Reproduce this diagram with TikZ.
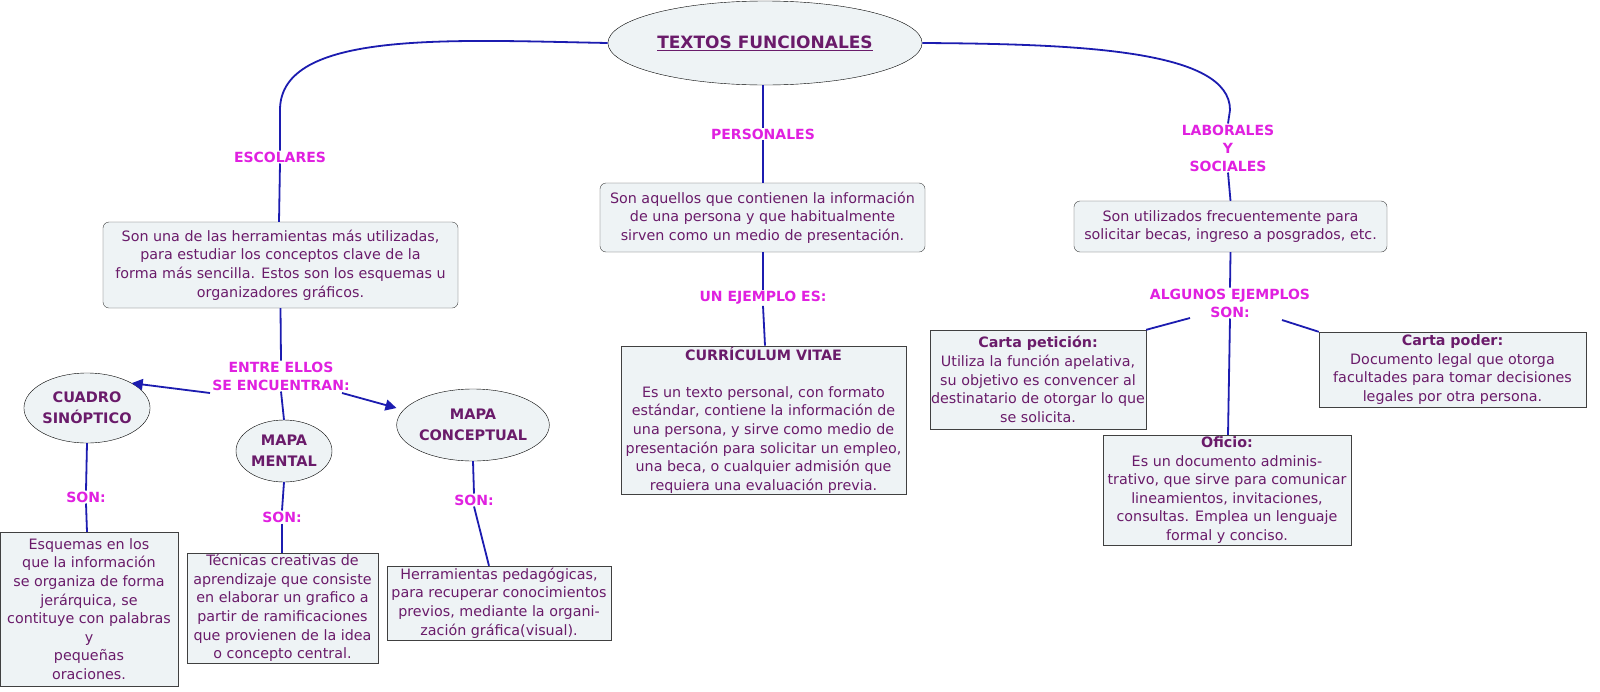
\documentclass[tikz,border=0pt]{standalone}
\usepackage{fontspec}
\setmainfont{DejaVu Sans}
\usetikzlibrary{arrows.meta,shapes.geometric}
\definecolor{txt}{HTML}{6A1B6A}
\definecolor{lab}{HTML}{E020E0}
\definecolor{ln}{HTML}{1C1CB0}
\definecolor{bfill}{HTML}{EEF3F5}
\begin{document}
\begin{tikzpicture}[x=1pt,y=-1pt,
  box/.style={draw=black!75,fill=bfill,rounded corners=6pt,text=txt,align=center,inner sep=1pt,font=\fontsize{14.3}{18.6}\selectfont},
  sbox/.style={draw=black!75,fill=bfill,text=txt,align=center,inner sep=1pt,font=\fontsize{14.3}{18.6}\selectfont},
  ell/.style={draw=black,fill=bfill,ellipse,text=txt,align=center,font=\bfseries\fontsize{14.5}{21}\selectfont},
  lbl/.style={text=lab,align=center,font=\bfseries\fontsize{14}{18}\selectfont,inner sep=1pt},
  conn/.style={draw=ln,line width=1.8pt},
  arr/.style={conn,-{Triangle[length=11pt,width=11pt]}}]
\useasboundingbox (0,0) rectangle (1600,691);
\fill[white] (0,0) rectangle (1600,691);
% title
\node[draw=black,fill=bfill,ellipse,minimum width=268pt,minimum height=84pt,text=txt,font=\bfseries\fontsize{17}{20}\selectfont] (t) at (765,43) {\underline{TEXTOS FUNCIONALES}};
% labels
\node[lbl] (esc) at (280,157) {ESCOLARES};
\node[lbl] (per) at (763,134) {PERSONALES};
\node[lbl] (lab) at (1228,148) {LABORALES\\Y\\SOCIALES};
\node[lbl] (entre) at (281,376) {ENTRE ELLOS\\SE ENCUENTRAN:};
\node[lbl] (unej) at (763,298) {UN EJEMPLO ES:};
\node[lbl] (alg) at (1230,303) {ALGUNOS EJEMPLOS\\SON:};
\node[lbl] (son1) at (86,497) {SON:};
\node[lbl] (son2) at (282,517) {SON:};
\node[lbl] (son3) at (474,500) {SON:};
% boxes
\node[box,minimum width=355pt,minimum height=86pt] (bEsc) at (280.5,265) {Son una de las herramientas más utilizadas,\\para estudiar los conceptos clave de la\\forma más sencilla. Estos son los esquemas u\\organizadores gráficos.};
\node[box,minimum width=325pt,minimum height=69pt] (bPer) at (762.5,217.5) {Son aquellos que contienen la información\\de una persona y que habitualmente\\sirven como un medio de presentación.};
\node[box,minimum width=313pt,minimum height=51pt] (bLab) at (1230.5,226.5) {Son utilizados frecuentemente para\\solicitar becas, ingreso a posgrados, etc.};
\node[sbox,minimum width=285pt,minimum height=148pt] (cv) at (763.5,420) {\textbf{CURRÍCULUM VITAE}\\[18.6pt]Es un texto personal, con formato\\estándar, contiene la información de\\una persona, y sirve como medio de\\presentación para solicitar un empleo,\\una beca, o cualquier admisión que\\requiera una evaluación previa.};
\node[ell,minimum width=124pt,minimum height=70pt,inner sep=0pt] (cs) at (87,408) {CUADRO\\SINÓPTICO};
\node[ell,minimum width=96pt,minimum height=62pt,inner sep=0pt] (mm) at (284,451) {MAPA\\MENTAL};
\node[ell,minimum width=138pt,minimum height=72pt,inner sep=0pt] (mc) at (473,425) {MAPA\\CONCEPTUAL};
\node[sbox,minimum width=178pt,minimum height=154pt] (b1) at (89,609) {Esquemas en los\\que la información\\se organiza de forma\\jerárquica, se\\contituye con palabras\\y\\pequeñas\\oraciones.};
\node[sbox,minimum width=191pt,minimum height=110pt] (b2) at (282.5,608) {Técnicas creativas de\\aprendizaje que consiste\\en elaborar un grafico a\\partir de ramificaciones\\que provienen de la idea\\o concepto central.};
\node[sbox,minimum width=224pt,minimum height=74pt] (b3) at (499,603) {Herramientas pedagógicas,\\para recuperar conocimientos\\previos, mediante la organi-\\zación gráfica(visual).};
\node[sbox,minimum width=216pt,minimum height=99pt] (cp) at (1038,379.5) {\textbf{Carta petición:}\\Utiliza la función apelativa,\\su objetivo es convencer al\\destinatario de otorgar lo que\\se solicita.};
\node[sbox,minimum width=267pt,minimum height=75pt] (cpo) at (1452.5,369.5) {\textbf{Carta poder:}\\Documento legal que otorga\\facultades para tomar decisiones\\legales por otra persona.};
\node[sbox,minimum width=248pt,minimum height=110pt] (of) at (1227,490) {\textbf{Oficio:}\\Es un documento adminis-\\trativo, que sirve para comunicar\\lineamientos, invitaciones,\\consultas. Emplea un lenguaje\\formal y conciso.};
% connectors
\draw[conn] (t.west) .. controls (450,40) and (280,30) .. (280,110) -- (esc.north);
\draw[conn] (esc.south) -- (bEsc.north -| 279,0);
\draw[conn] (t.east) .. controls (1080,44) and (1230,50) .. (1230,110) -- (lab.north);
\draw[conn] (lab.south) -- (bLab.north);
\draw[conn] (t.south -| 763,0) -- (per.north);
\draw[conn] (per.south) -- (bPer.north -| 763,0);
\draw[conn] (bPer.south -| 763,0) -- (unej.north);
\draw[conn] (unej.south) -- (cv.north -| 765,0);
\draw[conn] (bEsc.south) -- (entre.north);
\draw[conn] (entre.south) -- (mm.north);
\coordinate (ea) at (210,393);
\coordinate (eb) at (342,393);
\draw[arr] (ea) -- (cs.north east);
\draw[arr] (eb) -- (mc.west |- 0,408);
\draw[conn] (cs.south) -- (son1.north);
\draw[conn] (son1.south) -- (b1.north -| 87,0);
\draw[conn] (mm.south) -- (son2.north);
\draw[conn] (son2.south) -- (b2.north -| 282,0);
\draw[conn] (mc.south) -- (son3.north);
\draw[conn] (son3.south) -- (b3.north -| 489,0);
\draw[conn] (bLab.south) -- (alg.north);
\coordinate (a1) at (1190,318);
\coordinate (a2) at (1282,320);
\draw[conn] (a1) -- (cp.north east);
\draw[conn] (a2) -- (cpo.north west);
\draw[conn] (alg.south) -- (of.north -| 1228,0);
\end{tikzpicture}
\end{document}
